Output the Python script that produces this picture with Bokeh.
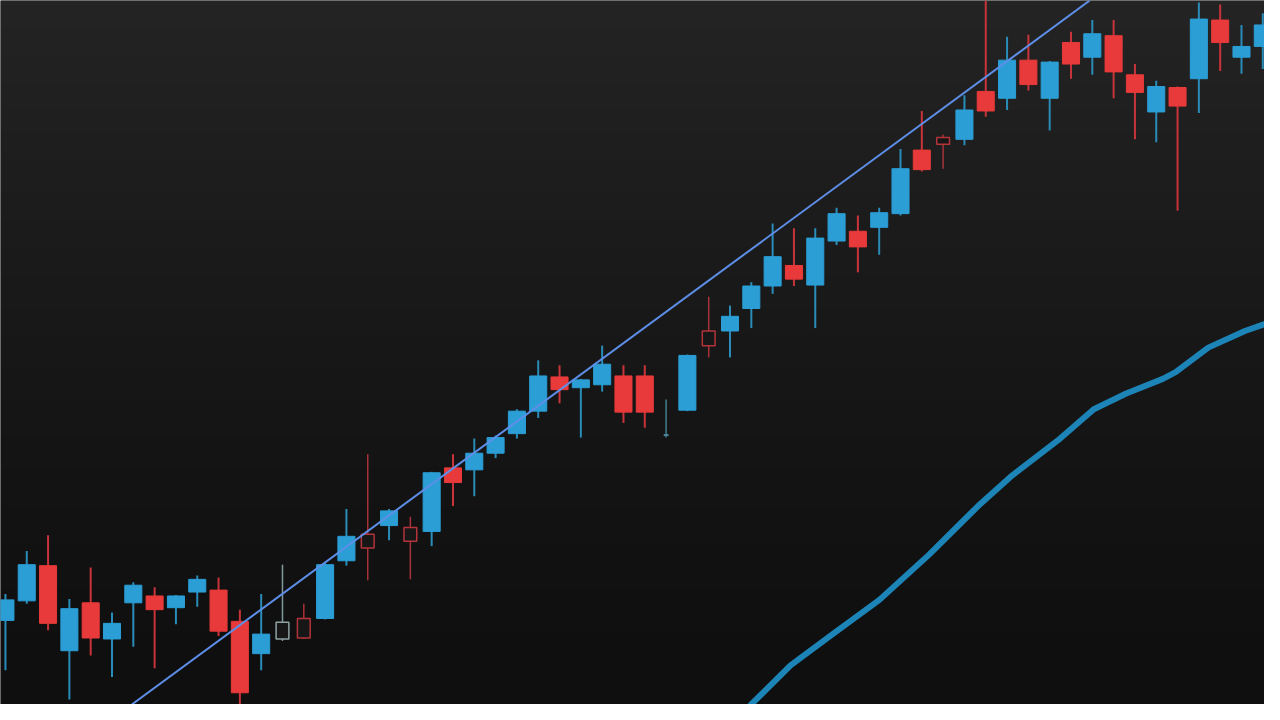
import numpy as np
from bokeh.plotting import figure
from bokeh.models import Range1d, ColumnDataSource
from bokeh.embed import file_html
from bokeh.resources import INLINE

# ---- data (price units) ----
opens = [117.2, 121.2, 128.4, 111.0, 120.8, 113.4, 120.8, 122.2, 119.8, 123.0,
         123.4, 117.0, 110.4, 113.4, 117.6, 117.6, 129.4, 134.8, 136.6, 136.2,
         135.4, 148.4, 148.0, 151.4, 155.4, 160.0, 167.0, 164.8, 165.4, 167.2,
         167.2, 155.0, 160.2, 176.4, 176.4, 181.0, 185.6, 189.8, 185.8, 194.8,
         196.8, 197.6, 200.4, 213.4, 216.0, 215.6, 225.4, 224.0, 231.8, 224.0,
         235.4, 232.4, 236.8, 228.8, 221.2, 226.2, 228.0, 240.0, 232.4, 234.6]
highs = [122.6, 131.4, 134.6, 121.6, 128.0, 118.8, 125.0, 124.0, 122.4, 126.4,
         126.0, 119.4, 122.6, 128.6, 120.6, 129.0, 140.0, 151.2, 140.0, 138.4,
         147.6, 151.2, 154.4, 155.0, 160.4, 170.4, 169.4, 166.6, 173.4, 169.4,
         169.4, 162.4, 171.6, 183.4, 181.6, 186.4, 198.4, 197.4, 197.4, 201.6,
         200.0, 201.6, 213.6, 221.4, 216.6, 224.6, 244.0, 236.6, 237.0, 231.6,
         237.6, 240.0, 240.0, 231.0, 227.6, 226.4, 243.6, 243.2, 239.0, 241.4]
lows = [107.0, 120.6, 115.2, 101.0, 110.0, 105.6, 111.8, 107.4, 116.4, 120.0,
        114.0, 99.6, 107.0, 113.0, 113.4, 117.4, 128.4, 125.4, 133.6, 125.6,
        132.4, 140.6, 142.6, 150.4, 154.4, 158.6, 161.6, 154.6, 164.0, 157.6,
        156.6, 154.6, 160.0, 171.0, 171.0, 177.0, 184.0, 185.6, 177.0, 194.0,
        188.4, 192.0, 200.0, 209.0, 209.6, 214.4, 220.2, 221.6, 225.6, 217.4,
        228.0, 228.8, 224.0, 215.6, 215.0, 201.0, 221.0, 229.6, 229.0, 230.0]
closes = [121.4, 128.6, 116.6, 119.6, 113.6, 116.6, 124.4, 119.4, 122.2, 125.6,
          115.0, 102.4, 114.4, 116.8, 113.6, 128.6, 134.4, 132.0, 139.6, 133.4,
          147.4, 145.4, 151.4, 154.6, 160.0, 167.2, 164.4, 166.4, 169.6, 159.8,
          159.8, 155.2, 171.4, 173.4, 179.4, 185.6, 191.6, 187.0, 195.4, 200.4,
          193.6, 200.6, 209.6, 209.4, 214.6, 221.6, 221.4, 231.8, 226.8, 231.4,
          231.0, 237.2, 229.4, 225.2, 226.4, 222.4, 240.2, 235.4, 234.6, 239.0]
hollow_days = [13, 14, 17, 19, 33, 44]
doji_days = [31]

trend_x = [5.93, 50.88]
trend_y = [100.0, 244.0]

ma_x = [34.5, 34.99, 36.84, 38.69, 41.01, 43.33, 45.64, 47.17, 49.49, 51.07,
        52.59, 54.31, 54.91, 56.44, 58.16, 59.08]
ma_y = [97.0, 100.0, 108.0, 114.0, 121.4, 130.6, 140.6, 146.6, 154.4, 160.4,
        163.6, 166.6, 168.0, 173.0, 176.4, 177.8]

# ---- styling ----
UP = "#2b9ed6"
DOWN = "#e83a3a"
UP_WICK = "#2a8cb8"
DOWN_WICK = "#c8343a"
BG_TOP = (36, 36, 36)
BG_BOT = (15, 15, 15)

W, H = 1264, 704
x0, x1 = -0.232, 59.08
y0, y1 = 100.0, 244.0

p = figure(width=W, height=H, output_backend="svg", toolbar_location=None,
           x_range=Range1d(x0, x1), y_range=Range1d(y0, y1),
           min_border=0, min_border_left=0, min_border_right=0,
           min_border_top=0, min_border_bottom=0)
p.axis.visible = False
p.grid.visible = False
p.outline_line_color = None
p.background_fill_color = "#181818"
p.border_fill_color = "#181818"

# vertical gradient background
n = 128
t = np.linspace(0, 1, n)
img = np.empty((n, 2), dtype=np.uint32)
view = img.view(dtype=np.uint8).reshape((n, 2, 4))
for k in range(3):
    view[:, :, k] = (BG_BOT[k] + (BG_TOP[k] - BG_BOT[k]) * t ** 1.3)[:, None].astype(np.uint8)
view[:, :, 3] = 255
p.image_rgba(image=[img], x=x0, y=y0, dw=x1 - x0, dh=y1 - y0)

# moving average
p.line(ma_x, ma_y, line_color="#1c84b6", line_width=6, line_cap="round", line_join="round")

idx = list(range(len(opens)))
up = [closes[i] >= opens[i] for i in idx]
solid = [i for i in idx if i not in hollow_days and i not in doji_days]

def src(ids):
    return ColumnDataSource(dict(
        x=[i for i in ids],
        top=[max(opens[i], closes[i]) for i in ids],
        bottom=[min(opens[i], closes[i]) for i in ids],
        high=[highs[i] for i in ids],
        low=[lows[i] for i in ids],
    ))

su = src([i for i in solid if up[i]])
sd = src([i for i in solid if not up[i]])
hu = src([i for i in hollow_days if up[i]])
hd = src([i for i in hollow_days if not up[i]])
dj = src(doji_days)

p.segment(x0="x", y0="high", x1="x", y1="low", source=su, line_color=UP_WICK, line_width=2)
p.segment(x0="x", y0="high", x1="x", y1="low", source=sd, line_color=DOWN_WICK, line_width=2)
p.segment(x0="x", y0="high", x1="x", y1="low", source=hu, line_color="#7f9a9c", line_width=1.5)
p.segment(x0="x", y0="high", x1="x", y1="low", source=hd, line_color="#a8323a", line_width=1.5)
p.segment(x0="x", y0="high", x1="x", y1="low", source=dj, line_color="#3d7f8f", line_width=1.5)

p.vbar(x="x", top="top", bottom="bottom", width=0.8, source=su,
       fill_color=UP, line_color=UP, line_width=1)
p.vbar(x="x", top="top", bottom="bottom", width=0.8, source=sd,
       fill_color=DOWN, line_color=DOWN, line_width=1)
p.vbar(x="x", top="top", bottom="bottom", width=0.6, source=hu,
       fill_color="#171717", line_color="#8fa3a3", line_width=1.5)
p.vbar(x="x", top="top", bottom="bottom", width=0.6, source=hd,
       fill_color="#171717", line_color="#b3343a", line_width=1.5)
p.vbar(x="x", top="top", bottom="bottom", width=0.2, source=dj,
       fill_color="#4d8a9a", line_color="#4d8a9a", line_width=1)

# trend line
p.line(trend_x, trend_y, line_color="#5e8fe8", line_width=2)

open("out.html", "w").write(file_html(p, INLINE))
